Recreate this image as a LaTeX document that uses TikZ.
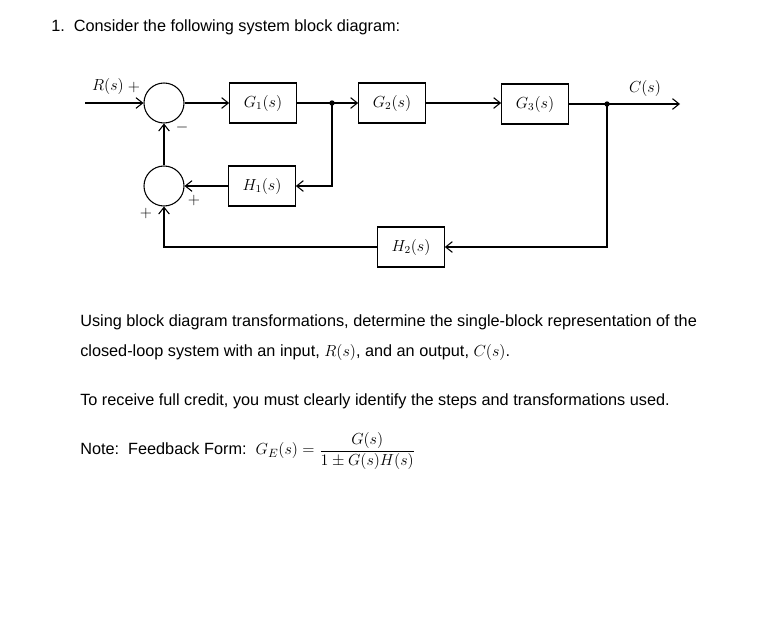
\documentclass[tikz,border=0pt]{standalone}
\usepackage{amsmath}
\usepackage{fontspec}
\setmainfont{Liberation Sans}
\usetikzlibrary{positioning,arrows.meta}
\tikzset{
  block/.style={draw, line width=0.8pt, minimum width=50pt, minimum height=30pt, inner sep=0pt, font=\fontsize{12}{14}\selectfont},
  sumnode/.style={draw, circle, line width=0.8pt, minimum size=30pt, inner sep=0pt},
  wire/.style={line width=0.8pt},
  sig/.style={wire, -{Straight Barb[length=5pt,width=8pt]}},
  txt/.style={anchor=west, inner sep=0pt, font=\fontsize{12.2}{14}\selectfont},
  sgn/.style={inner sep=0pt, font=\fontsize{12}{14}\selectfont}
}
\begin{document}
\begin{tikzpicture}[x=0.75pt,y=-0.75pt]
\useasboundingbox (0,0) rectangle (779,639);
% heading
\node[txt] (title) at (51,27) {1.\ \ Consider the following system block diagram:};
% blocks
\node[sumnode] (sum1) at (164,103) {};
\node[sumnode] (sum2) at (164,186) {};
\node[block] (G1) at (263,103) {$G_1(s)$};
\node[block] (G2) at (392,103) {$G_2(s)$};
\node[block] (G3) at (535,104) {$G_3(s)$};
\node[block] (H1) at (262,186) {$H_1(s)$};
\node[block] (H2) at (411,247) {$H_2(s)$};
\coordinate (in) at (85,103);
\coordinate (b1) at (332,103);
\coordinate (b2) at (607,104);
\coordinate (out) at (680,104);
\fill (b1) circle (2pt);
\fill (b2) circle (2pt);
% forward path
\draw[sig] (in) -- (sum1);
\draw[sig] (sum1) -- (G1);
\draw[wire] (G1.east) -- (b1);
\draw[sig] (b1) -- (G2.west);
\draw[sig] (G2.east) -- (G3.west |- G2.east);
\draw[wire] (G3.east) -- (b2);
\draw[sig] (b2) -- (out);
% feedback paths
\draw[sig] (b1) |- (H1.east);
\draw[sig] (H1) -- (sum2);
\draw[sig] (sum2) -- (sum1);
\draw[sig] (b2) |- (H2.east);
\draw[sig] (H2.west) -| (sum2.south);
% signs and signals
\node[sgn] (R) at (108,86) {$R(s)$};
\node[sgn] (p1) at (134,87) {$+$};
\node[sgn] (m1) at (182,127) {$-$};
\node[sgn] (p2) at (194,200) {$+$};
\node[sgn] (p3) at (146,213) {$+$};
\node[sgn] (C) at (645,88) {$C(s)$};
% question text
\node[txt] (q1) at (80,322) {Using block diagram transformations, determine the single-block representation of the};
\node[txt] (q2) at (80,352) {closed-loop system with an input, $R(s)$, and an output, $C(s)$.};
\node[txt] (q3) at (80,401) {To receive full credit, you must clearly identify the steps and transformations used.};
\node[txt] (note) at (80,451) {Note:\ \ Feedback Form:\ \ $G_E(s)=\dfrac{G(s)}{1\pm G(s)H(s)}$};
\end{tikzpicture}
\end{document}
